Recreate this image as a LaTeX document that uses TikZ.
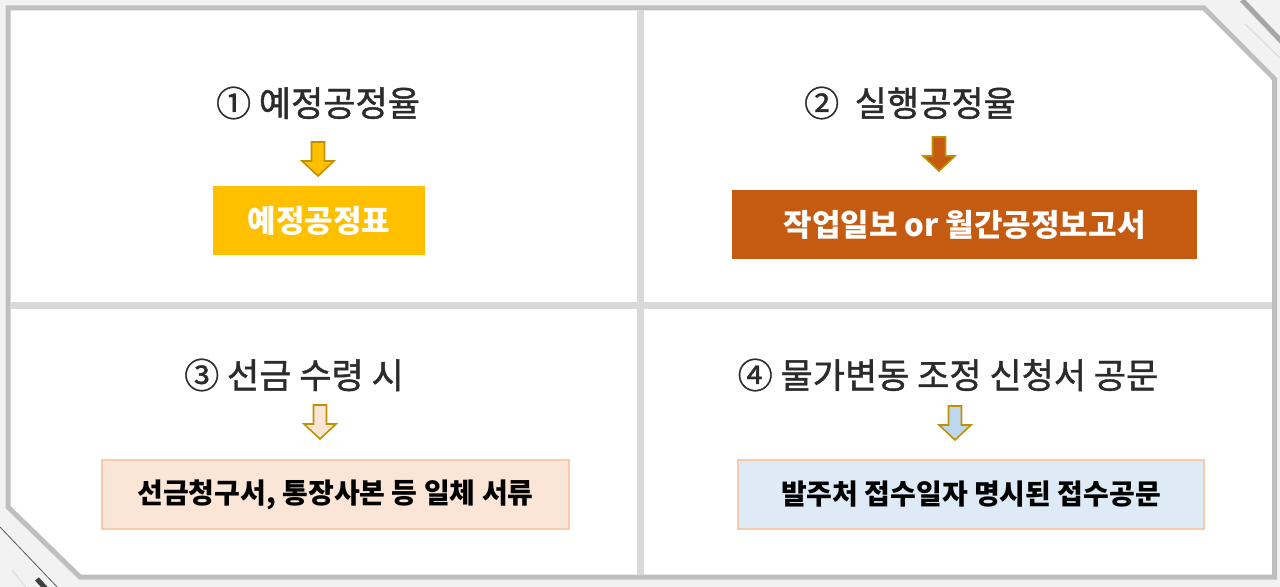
\documentclass[tikz,border=0pt]{standalone}
\usepackage{fontspec}
\setmainfont{Noto Sans CJK KR}
\newfontfamily\headfont{Noto Sans CJK KR}[BoldFont={Noto Sans CJK KR},BoldFeatures={FakeBold=1.2}]
\usepackage{xcolor}
\usepackage{tikz}
\usetikzlibrary{positioning}

\definecolor{bggray}{HTML}{F2F2F2}
\definecolor{framegray}{HTML}{BFBFBF}
\definecolor{divgray}{HTML}{D9D9D9}
\definecolor{headtext}{HTML}{2B2B2B}
\definecolor{gold}{HTML}{FFC000}
\definecolor{goldline}{HTML}{BF9000}
\definecolor{rust}{HTML}{C55A11}
\definecolor{peach}{HTML}{FBE5D6}
\definecolor{peachline}{HTML}{F8CBAD}
\definecolor{paleblue}{HTML}{DEEBF7}
\definecolor{arrowblue}{HTML}{BDD7EE}

\tikzset{
    heading/.style={
      text=headtext,
      inner sep=0pt,
      font=\headfont\bfseries\fontsize{17.5}{20}\selectfont,
    },
    task/.style={
      rectangle,
      minimum height=34.5pt,
      inner sep=0pt,
      text centered,
      font=\bfseries\fontsize{15.5}{18}\selectfont,
    },
    doc/.style={
      task,
      draw=peachline, line width=1pt,
      font=\bfseries\fontsize{14}{16}\selectfont,
    },
    downarrow/.pic={
      \path[pic actions] (-6.5,0) -- (6.5,0) -- (6.5,19) -- (16,19)
        -- (0,34) -- (-16,19) -- (-6.5,19) -- cycle;
    },
}

\begin{document}
\begin{tikzpicture}[x=0.5pt,y=-0.5pt]

    \useasboundingbox (0,0) rectangle (1280,587);
    \clip (0,0) rectangle (1280,587);
    \fill[bggray] (0,0) rectangle (1280,587);

    % corner strokes
    \draw[gray!70, line width=2.5pt] (1242,0) -- (1282,42);
    \draw[divgray, line width=0.5pt] (1245,24) -- (1282,60);
    \draw[black!65, line width=0.4pt] (0,527) -- (60,590);
    \draw[divgray, line width=0.5pt] (12,570) -- (28,590);
    \draw[black!75, line width=2.5pt] (37,579) -- (47,590);
    \draw[blue!40!black, line width=1.5pt] (1170,590) arc (180:0:6);

    % frame and dividers
    \draw[framegray, fill=white, line width=2.5pt]
      (8,8) -- (1204,8) -- (1274.5,79) -- (1274.5,577) -- (80,577) -- (8,507) -- cycle;
    \draw[divgray, line width=3.5pt] (640,10) -- (640,575);
    \draw[divgray, line width=3.5pt] (10,305.5) -- (1272,305.5);

    % top left
    \node[heading] (rate1) at (318,103) {① 예정공정율};
    \pic[fill=gold, draw=goldline, line width=0.8pt] at (318,142) {downarrow};
    \node[task, fill=gold, text=white, minimum width=106pt] (plan1) at (319,221) {예정공정표};

    % top right
    \node[heading] (rate2) at (910,103) {②\ \ 실행공정율};
    \pic[fill=rust, draw=goldline, line width=0.8pt] at (939,137) {downarrow};
    \node[task, fill=rust, text=white, minimum width=232.5pt] (plan2) at (964.5,225) {작업일보 or 월간공정보고서};

    % bottom left
    \node[heading] (rate3) at (294,375) {③ 선금 수령 시};
    \pic[fill=peach, draw=goldline, line width=0.8pt] at (320,405) {downarrow};
    \node[doc, fill=peach, minimum width=233.5pt] (plan3) at (335.5,494.5) {선금청구서, 통장사본 등 일체 서류};

    % bottom right
    \node[heading] (rate4) at (948,375) {④ 물가변동 조정 신청서 공문};
    \pic[fill=arrowblue, draw=goldline, line width=0.8pt] at (955,406) {downarrow};
    \node[doc, fill=paleblue, minimum width=233pt] (plan4) at (971,494.5) {발주처 접수일자 명시된 접수공문};

\end{tikzpicture}
\end{document}
